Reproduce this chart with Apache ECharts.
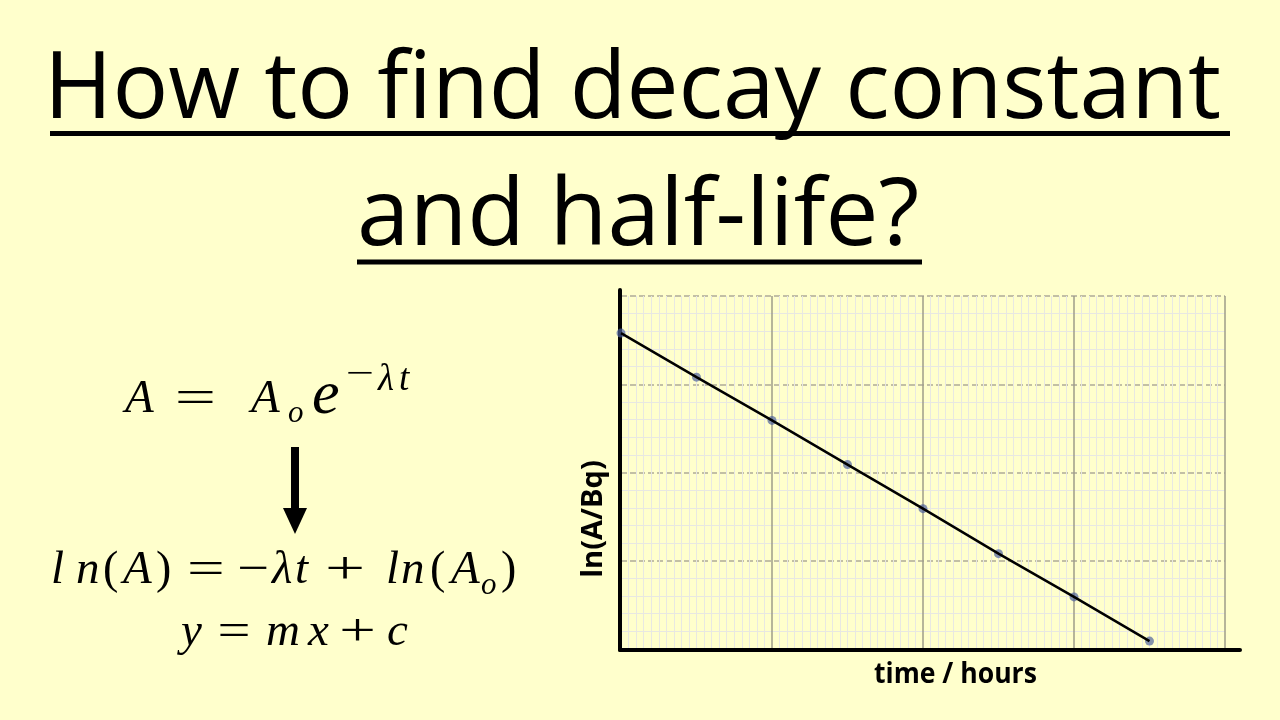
<!DOCTYPE html>
<html>
<head>
<meta charset="utf-8">
<script src="https://cdn.jsdelivr.net/npm/echarts@6/dist/echarts.min.js"></script>
<style>
html,body{margin:0;padding:0;background:#FFFFCC;}
#chart{width:1280px;height:720px;}
</style>
</head>
<body>
<div id="chart"></div>
<script>
// ---- data ----
const timeHours = [0, 1, 2, 3, 4, 5, 6, 7];
const lnActivity = [3.58, 3.08, 2.59, 2.09, 1.59, 1.08, 0.59, 0.09];
const xTitle = 'time / hours';
const yTitle = 'ln(A/Bq)';
const titleLines = ['How to find decay constant', 'and half-life?'];

const points = timeHours.map((t, i) => [t, lnActivity[i]]);

// ---- text helpers (measure with canvas so baselines/widths match) ----
const cctx = document.createElement('canvas').getContext('2d');
function baseOff(font) {
  cctx.font = font; cctx.textBaseline = 'middle'; cctx.textAlign = 'left';
  return cctx.measureText('H').actualBoundingBoxDescent;
}
function seg(text, font, left, baseline, right, extra) {
  cctx.font = font; cctx.textBaseline = 'middle'; cctx.textAlign = 'left';
  const m = cctx.measureText(text);
  const inkW = m.actualBoundingBoxLeft + m.actualBoundingBoxRight;
  const s = right != null ? (right - left) / inkW : 1;
  return Object.assign({
    type: 'text',
    x: left + m.actualBoundingBoxLeft * s,
    y: baseline - baseOff(font),
    scaleX: s,
    silent: true,
    style: { text: text, font: font, fill: '#000', align: 'left', verticalAlign: 'middle' }
  }, extra || {});
}

const TF = '400 93px "Open Sans"';
const IT = 'italic 47px "Liberation Serif"';
const ITS = 'italic 31px "Liberation Serif"';
const ITE = 'italic 62px "Liberation Serif"';
const ITP = 'italic 37px "Liberation Serif"';
const OP = '46px "Liberation Serif"';
const OPS = '34px "Liberation Serif"';
const AX = '700 28px "Open Sans"';

const graphics = [];
// Title with underlines
graphics.push(seg(titleLines[0], TF, 53, 118, 1220));
graphics.push({ type: 'rect', silent: true, shape: { x: 50, y: 131, width: 1180, height: 5 }, style: { fill: '#000' } });
graphics.push(seg(titleLines[1], TF, 361, 245, 917));
graphics.push({ type: 'rect', silent: true, shape: { x: 357, y: 259.5, width: 565, height: 5 }, style: { fill: '#000' } });

// Formula 1: A = A_o e^{-λt}
graphics.push(seg('A', IT, 122, 412));
graphics.push(seg('=', OP, 178, 412, 213));
graphics.push(seg('A', IT, 248, 412));
graphics.push(seg('o', ITS, 288, 422));
graphics.push(seg('e', ITE, 313, 413));
graphics.push(seg('\u2212', OPS, 347, 384, 372));
graphics.push(seg('\u03bb', ITP, 377, 390));
graphics.push(seg('t', ITP, 400, 390));

// Arrow
graphics.push({ type: 'rect', silent: true, shape: { x: 291, y: 447, width: 8, height: 65 }, style: { fill: '#000' } });
graphics.push({ type: 'polygon', silent: true, shape: { points: [[283, 508], [307, 508], [295, 534]] }, style: { fill: '#000' } });

// Formula 2: l n(A) = −λt + ln(A_o)
const b2 = 583;
graphics.push(seg('l', IT, 53, b2));
graphics.push(seg('n', IT, 77, b2));
graphics.push(seg('(', OP, 105, b2));
graphics.push(seg('A', IT, 120, b2));
graphics.push(seg(')', OP, 157, b2));
graphics.push(seg('=', OP, 190, b2, 222));
graphics.push(seg('\u2212', OP, 240, b2, 267));
graphics.push(seg('\u03bb', IT, 270, b2));
graphics.push(seg('t', IT, 297, b2));
graphics.push(seg('+', OP, 328, b2, 362));
graphics.push(seg('l', IT, 388, b2));
graphics.push(seg('n', IT, 402, b2));
graphics.push(seg('(', OP, 432, b2));
graphics.push(seg('A', IT, 448, b2));
graphics.push(seg('o', ITS, 481, 594));
graphics.push(seg(')', OP, 502, b2));

// Formula 3: y = mx + c
const b3 = 645;
graphics.push(seg('y', IT, 177, b3));
graphics.push(seg('=', OP, 220, b3, 248));
graphics.push(seg('m', IT, 267, b3));
graphics.push(seg('x', IT, 307, b3));
graphics.push(seg('+', OP, 342, b3, 373));
graphics.push(seg('c', IT, 388, b3));

// Axis titles
graphics.push(seg(xTitle, AX, 874, 683, 1036));
(function () {
  cctx.font = AX; cctx.textBaseline = 'middle';
  const m = cctx.measureText(yTitle);
  const inkW = m.actualBoundingBoxLeft + m.actualBoundingBoxRight;
  graphics.push({
    type: 'text', silent: true, x: 594, y: 519, rotation: Math.PI / 2, scaleX: 115 / inkW,
    style: { text: yTitle, font: AX, fill: '#000', align: 'center', verticalAlign: 'middle' }
  });
})();

const chart = echarts.init(document.getElementById('chart'), null, { renderer: 'canvas' });
chart.setOption({
  backgroundColor: '#FFFFCC',
  animation: false,
  grid: [
    { left: 621, top: 296, width: 604, height: 353 },
    { left: 620, top: 290, width: 620, height: 360 }
  ],
  xAxis: [
    {
      type: 'value', gridIndex: 0, min: 0, max: 8, interval: 2,
      axisLine: { show: false }, axisTick: { show: false }, axisLabel: { show: false },
      splitLine: { show: true, lineStyle: { color: '#9e9c8a', width: 1.5, type: 'solid' } },
      minorTick: { show: false, splitNumber: 20 },
      minorSplitLine: { show: true, lineStyle: { color: '#e8e8e2', width: 1 } }
    },
    {
      type: 'value', gridIndex: 1, min: 0, max: 1, z: 1,
      axisLine: { show: true, onZero: false, lineStyle: { color: '#000', width: 4 } },
      axisTick: { show: false }, axisLabel: { show: false }, splitLine: { show: false }
    }
  ],
  yAxis: [
    {
      type: 'value', gridIndex: 0, min: 0, max: 4, interval: 1,
      axisLine: { show: false }, axisTick: { show: false }, axisLabel: { show: false },
      splitLine: { show: true, lineStyle: { color: '#aeaa98', width: 1.5, type: [6, 3] } },
      minorTick: { show: false, splitNumber: 5 },
      minorSplitLine: { show: true, lineStyle: { color: '#e8e8e2', width: 1 } }
    },
    {
      type: 'value', gridIndex: 1, min: 0, max: 1, z: 1,
      axisLine: { show: true, onZero: false, lineStyle: { color: '#000', width: 4 } },
      axisTick: { show: false }, axisLabel: { show: false }, splitLine: { show: false }
    }
  ],
  series: [
    {
      type: 'scatter', xAxisIndex: 0, yAxisIndex: 0, data: points, clip: false,
      symbol: 'circle', symbolSize: 9, itemStyle: { color: 'rgba(75,95,155,0.85)' }, z: 2
    },
    {
      type: 'line', xAxisIndex: 0, yAxisIndex: 0, data: points, clip: false,
      symbol: 'none', lineStyle: { color: '#000', width: 2.5 }, z: 3
    }
  ],
  graphic: graphics
});
</script>
</body>
</html>
